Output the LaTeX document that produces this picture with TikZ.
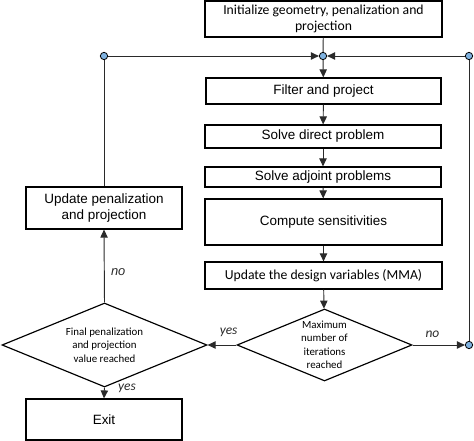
\documentclass[tikz,border=0pt]{standalone}
\usepackage{fontspec}
\setmainfont{Liberation Sans}
\newfontfamily\calfont{Carlito}
\newfontfamily\arialfont{Liberation Sans}
\usetikzlibrary{arrows.meta,positioning,shapes.geometric}
\definecolor{jointblue}{HTML}{7FB2E0}
\definecolor{linegray}{HTML}{2A2A2A}

\begin{document}
\begin{tikzpicture}[line width=0.8pt, >={Triangle[length=0.24cm, width=0.22cm]},
    proc/.style={draw, line width=1pt, fill=white, minimum width=7.08cm, align=center, inner sep=2pt,
      font=\arialfont\fontsize{11.5}{13.5}\selectfont},
    calbox/.style={proc, font=\calfont\fontsize{11.7}{14}\selectfont},
    decide/.style={draw, line width=1pt, diamond, aspect=2.43, inner sep=0pt, align=center,
      font=\calfont\fontsize{9.3}{11.5}\selectfont},
    joint/.style={draw, circle, fill=jointblue, inner sep=0pt, minimum size=0.22cm, line width=0.7pt},
    lab/.style={font=\calfont\itshape\fontsize{11.5}{13}\selectfont}]
  \useasboundingbox (0,0) rectangle (14.22,-13.23);
  % ================================================================ main loop (right column)
  \node[calbox, minimum width=7.11cm, minimum height=1.08cm] (init) at (9.705,-0.57) {Initialize geometry, penalization and\\ projection};
  \node[joint] (jc) at (9.69,-1.68) {};
  \node[joint] (jl) at (3.12,-1.68) {};
  \node[joint] (jr) at (14.07,-1.68) {};
  \node[proc, minimum width=7.05cm, minimum height=0.78cm] (filt) at (9.705,-2.73) {Filter and project};
  \node[proc, minimum height=0.69cm] (direct) at (9.69,-4.095) {Solve direct problem};
  \node[proc, minimum height=0.6cm] (adjoint) at (9.69,-5.31) {Solve adjoint problems};
  \node[proc, minimum width=7.11cm, minimum height=1.38cm] (sens) at (9.705,-6.66) {Compute sensitivities};
  \node[calbox, minimum width=7.11cm, minimum height=0.81cm] (design) at (9.705,-8.265) {Update the design variables (MMA)};
  \node[decide, minimum width=5.25cm, minimum height=2.16cm] (maxit) at (9.735,-10.35) {Maximum\\ number of\\ iterations\\ reached};
  \node[joint] (jrb) at (14.07,-10.35) {};
  % ================================================================ outer loop (left column)
  \node[decide, minimum width=6.15cm, minimum height=2.52cm] (final) at (3.135,-10.35) {Final penalization\\ and projection\\ value reached};
  \node[proc, minimum width=4.68cm, minimum height=1.26cm] (updpen) at (3.12,-6.24) {Update penalization\\ and projection};
  \node[proc, minimum width=4.68cm, minimum height=1.23cm] (exit) at (3.12,-12.585) {Exit};
  % arrows
  \draw[linegray] (init) -- (jc);
  \draw[->, linegray] (jc) -- (filt);
  \draw[->, linegray] (jl) -- (jc);
  \draw[->, linegray] (jr) -- (jc);
  \draw[->, linegray] (filt) -- (direct);
  \draw[->, linegray] (direct) -- (adjoint);
  \draw[->, linegray] (adjoint) -- (sens);
  \draw[->, linegray] (sens) -- (design);
  \draw[->, linegray] (design) -- (maxit);
  \draw[->, linegray] (maxit.west) -- node[lab, above=3pt, pos=0.27] {yes} (final.east);
  \draw[->, linegray] (maxit.east) -- node[lab, above=3pt, pos=0.38] {no} (jrb);
  \draw[linegray] (jrb) -- (jr);
  \draw[linegray] (jl) -- (updpen);
  \draw[->, linegray] (final.north) -- node[font=\arialfont\itshape\fontsize{11}{13}\selectfont, right=2pt, pos=0.42] {no} (updpen.south);
  \draw[->, linegray] (final.south) -- node[lab, right=8pt, pos=0.1] {yes} (exit.north);
\end{tikzpicture}
\end{document}
